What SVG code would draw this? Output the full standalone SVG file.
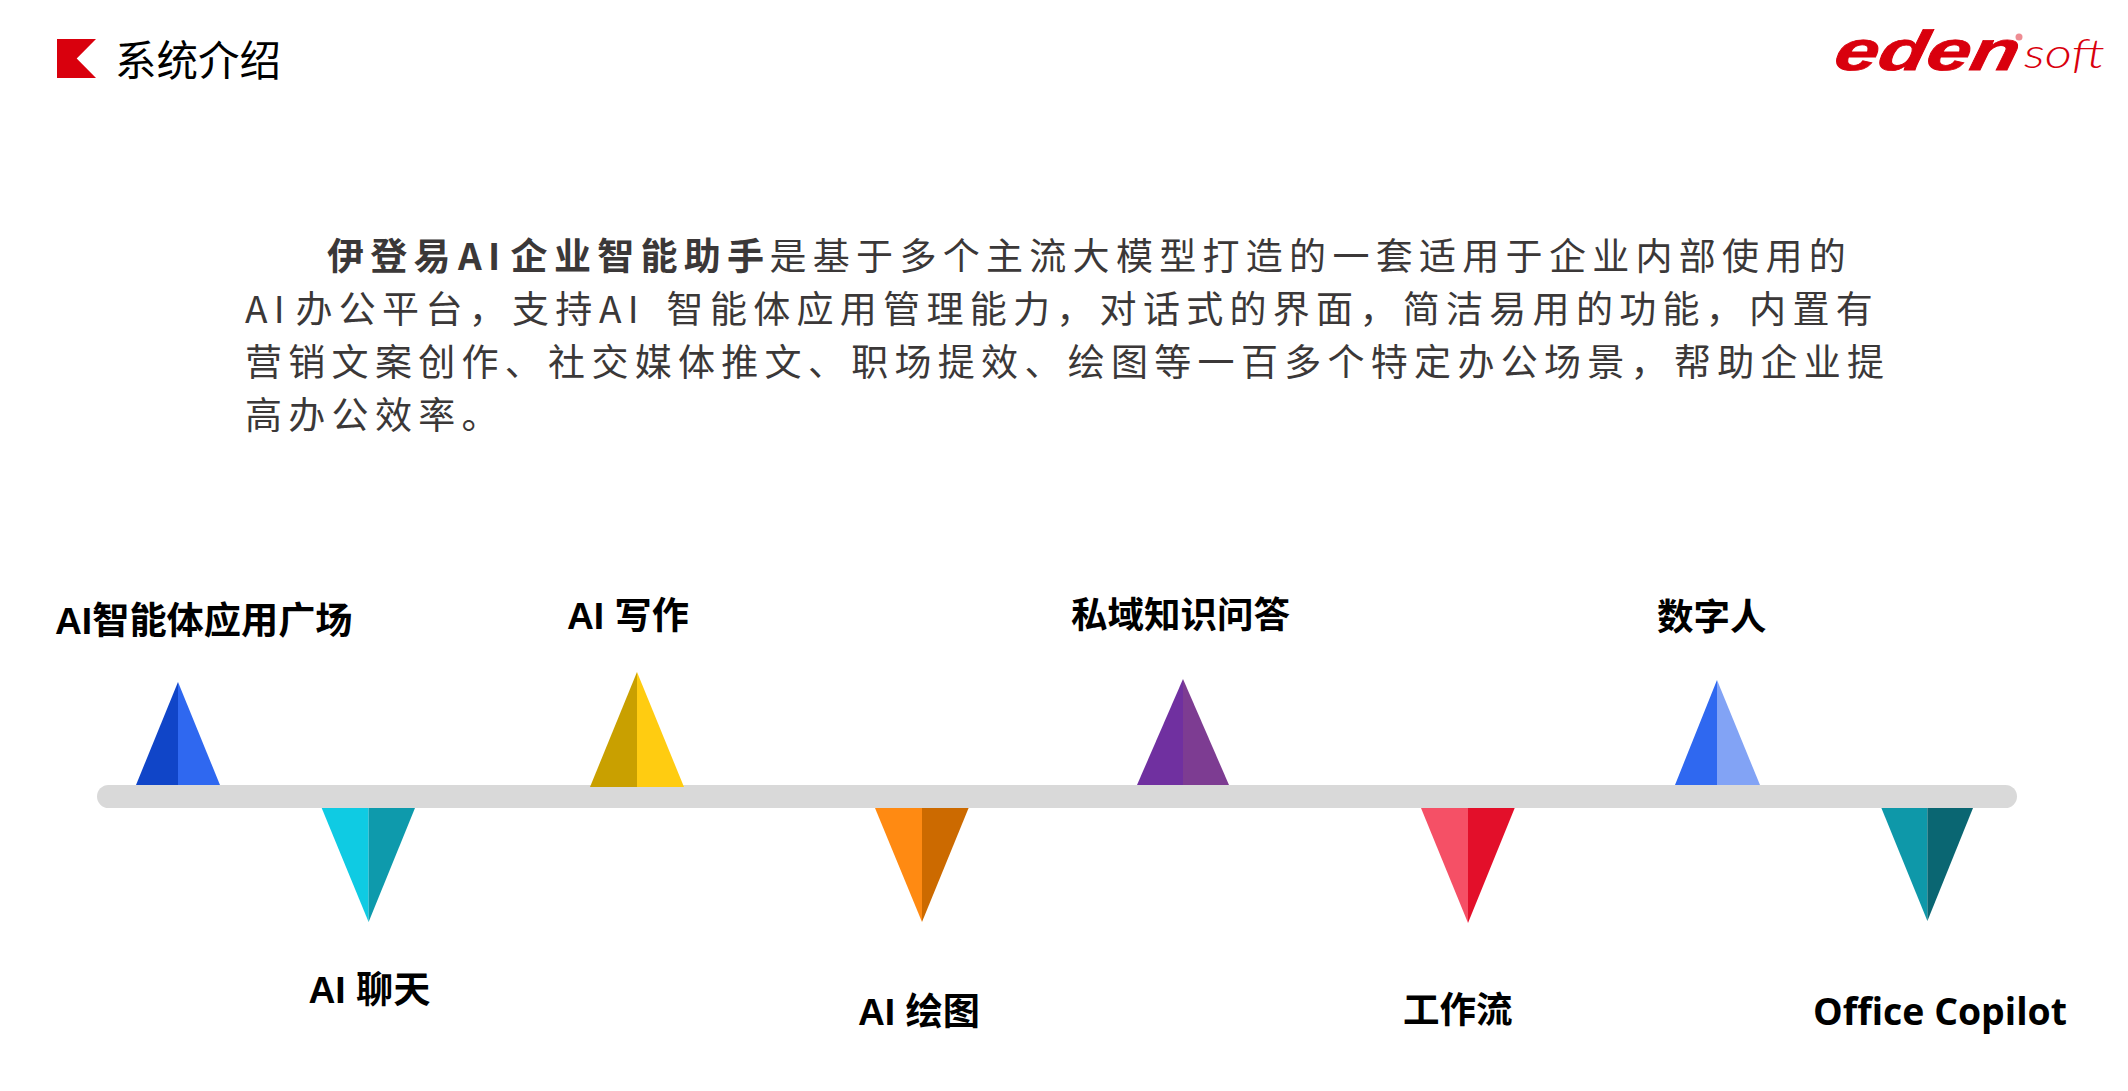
<svg xmlns="http://www.w3.org/2000/svg" width="2128" height="1091" viewBox="0 0 2128 1091">
<style>
text{font-family:"Noto Sans CJK SC","Noto Sans",sans-serif}
.b{font-size:37px;fill:#3b3838;letter-spacing:6.3px}
.bb{font-weight:700}
.l{font-size:36.5px;font-weight:700;fill:#000;font-family:"Liberation Sans","Noto Sans CJK SC",sans-serif}
.a{font-size:37.2px}
.lg{fill:#d9000d;font-family:"Liberation Sans",sans-serif}
</style>
<rect width="2128" height="1091" fill="#fff"/>
<g id="header">
<polygon points="57,39 96,39 76.7,58.5 96,78 57,78" fill="#d9000d"/>
<text x="115" y="76" font-size="41.5" fill="#000">系统介绍</text>
</g>
<g id="logo">
<text class="lg" transform="translate(1832,70) skewX(-12)" font-size="56" font-weight="700" font-style="italic" stroke="#d9000d" stroke-width="0.8" textLength="184" lengthAdjust="spacingAndGlyphs">eden</text>
<circle cx="2019" cy="37" r="3.5" fill="#ee8c93"/>
<text x="2024" y="68" font-size="42" font-style="italic" textLength="81" lengthAdjust="spacingAndGlyphs" style="fill:#d9000d;font-family:Lato,sans-serif;font-weight:300">soft</text>
</g>
<g id="intro">
<text class="b" y="270"><tspan class="bb" x="327">伊登易</tspan><tspan class="bb" x="458">AI</tspan><tspan class="bb" x="510.6">企业智能助手</tspan><tspan x="769.5">是基于多个主流大模型打造的一套适用于企业内部使用的</tspan></text>
<text class="b" y="323"><tspan x="245">AI</tspan><tspan x="295.5">办公平台，支持</tspan><tspan x="599">AI </tspan><tspan x="666.6">智能体应用管理能力，对话式的界面，简洁易用的功能，内置有</tspan></text>
<text class="b" x="245" y="376">营销文案创作、社交媒体推文、职场提效、绘图等一百多个特定办公场景，帮助企业提</text>
<text class="b" x="245" y="429">高办公效率。</text>
</g>
<g id="connectors">
<rect x="97" y="785" width="1920" height="23" rx="11.5" fill="#d9d9d9"/>
</g>
<g id="node-agent">
<polygon points="178,682 136,785 178,785" fill="#1045c8"/><polygon points="178,682 220,785 178,785" fill="#2f68f0"/>
<text class="l a" x="55" y="634">AI智能体应用广场</text>
</g>
<g id="node-chat">
<polygon points="368.6,922 321.7,808 368.6,808" fill="#0fcbe3"/><polygon points="368.6,922 415,808 368.6,808" fill="#0e9aac"/>
<text class="l a" x="308.5" y="1003">AI 聊天</text>
</g>
<g id="node-write">
<polygon points="637,672 590,787 637,787" fill="#c9a000"/><polygon points="637,672 684,787 637,787" fill="#ffcc11"/>
<text class="l a" x="567" y="629">AI 写作</text>
</g>
<g id="node-draw">
<polygon points="922,922 875,808 922,808" fill="#ff8a12"/><polygon points="922,922 968.6,808 922,808" fill="#cc6a00"/>
<text class="l a" x="858" y="1025">AI 绘图</text>
</g>
<g id="node-knowledge">
<polygon points="1183,679 1137,785 1183,785" fill="#7030a0"/><polygon points="1183,679 1229,785 1183,785" fill="#7d3c92"/>
<text class="l" x="1071" y="628">私域知识问答</text>
</g>
<g id="node-workflow">
<polygon points="1468,923 1421,808 1468,808" fill="#f55066"/><polygon points="1468,923 1514.7,808 1468,808" fill="#e30f2a"/>
<text class="l" x="1403" y="1023">工作流</text>
</g>
<g id="node-human">
<polygon points="1717,680 1675,785 1717,785" fill="#2f68f0"/><polygon points="1717,680 1760,785 1717,785" fill="#82a3f5"/>
<text class="l" x="1657" y="630">数字人</text>
</g>
<g id="node-copilot">
<polygon points="1927.4,921 1881.4,808 1927.4,808" fill="#0e98a9"/><polygon points="1927.4,921 1973,808 1927.4,808" fill="#0a6672"/>
<text class="l" x="1813" y="1025" style="font-size:37.4px;font-family:'Open Sans','Noto Sans',sans-serif">Office Copilot</text>
</g>
</svg>
